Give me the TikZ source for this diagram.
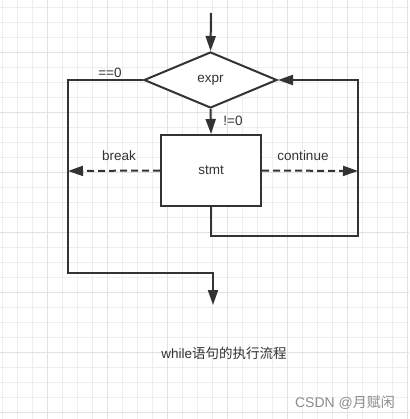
\documentclass[tikz,border=0pt]{standalone}
\usepackage{fontspec}
\setmainfont{Liberation Sans}
\newfontfamily\cjk{Noto Sans CJK SC}
\usetikzlibrary{shapes.geometric,arrows.meta}
\definecolor{ink}{HTML}{333333}
\definecolor{gridminor}{HTML}{EEEEEE}
\definecolor{gridmajor}{HTML}{E2E2E2}
\begin{document}
\begin{tikzpicture}[x=1pt,y=-1pt,
  line/.style={line width=2pt,draw=ink},
  flow/.style={line, -{Triangle[length=15pt,width=10pt]}},
  dflow/.style={flow, dash pattern=on 7pt off 4pt},
  lbl/.style={text=ink,font=\fontsize{13.5}{16}\selectfont,inner sep=0pt},
  decision/.style={diamond,draw=ink,line width=2pt,fill=white,minimum width=133pt,minimum height=56pt,aspect=2.375,inner sep=0pt,text=ink,font=\fontsize{13.5}{16}\selectfont},
  process/.style={rectangle,draw=ink,line width=2pt,fill=white,minimum width=100pt,minimum height=71pt,inner sep=0pt,text=ink,font=\fontsize{13.5}{16}\selectfont}
]
\useasboundingbox (0,0) rectangle (409,419);
\fill[white] (0,0) rectangle (409,419);
% grid
\foreach \i in {0,...,27} \draw[gridminor,line width=0.9pt] ({2+15*\i},0) -- ({2+15*\i},419);
\foreach \i in {0,...,27} \draw[gridminor,line width=0.9pt] (0,{7+15*\i}) -- (409,{7+15*\i});
\foreach \i in {0,...,6} \draw[gridmajor,line width=1.2pt] ({47.7+60*\i},0) -- ({47.7+60*\i},419);
\foreach \i in {0,...,6} \draw[gridmajor,line width=1.2pt] (0,{52.3+60*\i}) -- (409,{52.3+60*\i});

% nodes
\node[decision] (expr) at (210.5,80) {expr};
\node[process] (stmt) at (211,170.5) {stmt};
\coordinate (start) at (211,13);
\coordinate (lt) at (68,80);
\coordinate (lb) at (68,273);
\coordinate (bm) at (213,273);
\coordinate (endp) at (213,305);
\coordinate (brk) at (68,171);
\coordinate (cnt) at (358,171);
\coordinate (rb) at (358,236);
\coordinate (sb) at (211,236);
\coordinate (rt) at (358,80);

% connectors
\draw[flow] (start) -- (expr.north);
\draw[flow] (expr.south) -- (stmt.north);
\draw[flow] (expr.west) -- (lt) -- (lb) -- (bm) -- (endp);
\draw[flow] (stmt.south) -- (sb) -- (rb) -- (rt) -- (expr.east);
\draw[dflow] (stmt.west) -- (brk);
\draw[dflow] (stmt.east) -- (cnt);

% labels
\node[lbl] (l1) at (110,73) {==0};
\node[lbl] (l2) at (233,121) {!=0};
\node[lbl] (l3) at (119,156) {break};
\node[lbl] (l4) at (303,156) {continue};

\node[text=ink,inner sep=0pt,font=\fontsize{13.5}{16}\selectfont] (cap) at (224,353) {while{\cjk 语句的执行流程}};
\node[text=black!45,inner sep=0pt,font=\fontsize{14}{16}\selectfont] (wm) at (345,403) {CSDN @{\cjk 月赋闲}};
\end{tikzpicture}
\end{document}
